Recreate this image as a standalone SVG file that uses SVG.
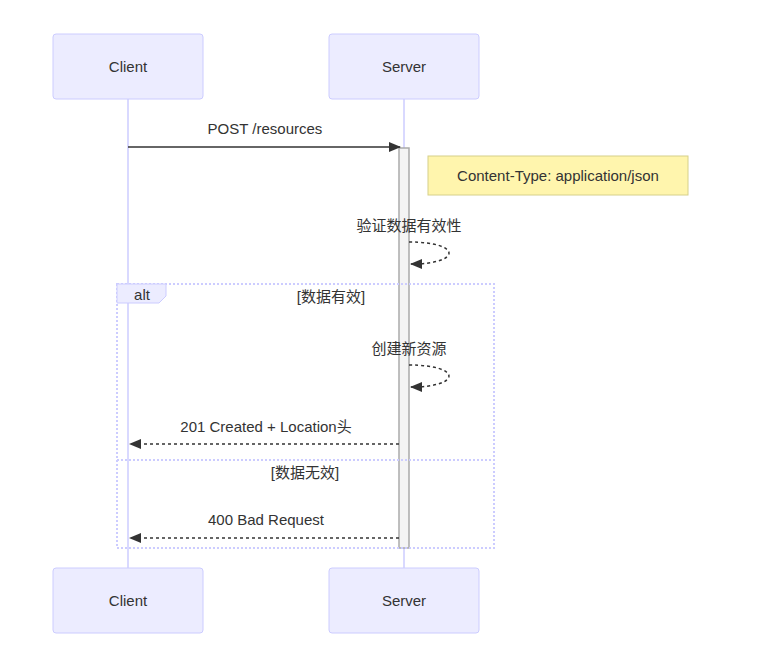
<svg xmlns="http://www.w3.org/2000/svg" width="767" height="659" viewBox="0 0 767 659">
<defs>
<style>
.actor{fill:#ECECFF;stroke:#CCCCFF;stroke-width:1}
.life{stroke:#CCCCFF;stroke-width:1.5}
.t{font-family:"Trebuchet MS","Liberation Sans","Noto Sans CJK SC",sans-serif;font-size:15px;fill:#333;text-anchor:middle}
.msg{stroke:#333;stroke-width:1.5;fill:none}
.dash{stroke-dasharray:3,3}
.loop{stroke:#CCCCFF;stroke-width:2;fill:none;stroke-dasharray:2,2}
</style>
<marker id="ah" viewBox="0 0 12 10" refX="11" refY="5" markerWidth="12" markerHeight="10" markerUnits="userSpaceOnUse" orient="auto"><path d="M0,0 L12,5 L0,10 z" fill="#333"/></marker>
</defs>
<rect width="767" height="659" fill="#fff"/>
<g id="lifelines">
<line class="life" x1="128" y1="99" x2="128" y2="568"/>
<line class="life" x1="404" y1="99" x2="404" y2="568"/>
</g>
<g id="client-top"><rect class="actor" x="53" y="34" width="150" height="65" rx="3"/><text class="t" x="128" y="72">Client</text></g>
<g id="server-top"><rect class="actor" x="329" y="34" width="150" height="65" rx="3"/><text class="t" x="404" y="72">Server</text></g>
<g id="client-bottom"><rect class="actor" x="53" y="568" width="150" height="65" rx="3"/><text class="t" x="128" y="606">Client</text></g>
<g id="server-bottom"><rect class="actor" x="329" y="568" width="150" height="65" rx="3"/><text class="t" x="404" y="606">Server</text></g>
<g id="activation"><rect x="399" y="148" width="10" height="400" fill="#F4F4F4" stroke="#aaa" stroke-width="1.5"/></g>
<g id="note"><rect x="428" y="156" width="260" height="39" fill="#FFF5AD" stroke="#D6D08A"/><text class="t" x="558" y="181">Content-Type: application/json</text></g>
<g id="alt">
<rect class="loop" x="117" y="284" width="377" height="264"/>
<line class="loop" x1="117" y1="460" x2="494" y2="460"/>
<path d="M117,284 H166 V296 L159,303 H117 Z" fill="#ECECFF" stroke="#CCCCFF"/>
<text class="t" x="142" y="300">alt</text>
<text class="t" x="331" y="302" style="font-weight:normal">[数据有效]</text>
<text class="t" x="305" y="478">[数据无效]</text>
</g>
<g id="connectors">
<line class="msg" x1="128" y1="147" x2="400" y2="147" marker-end="url(#ah)"/>
<text class="t" x="265" y="134">POST /resources</text>
<path class="msg dash" d="M409,242 C462,242 462,264 411,264" marker-end="url(#ah)"/>
<text class="t" x="409" y="231">验证数据有效性</text>
<path class="msg dash" d="M409,365 C462,365 462,387 411,387" marker-end="url(#ah)"/>
<text class="t" x="409" y="354">创建新资源</text>
<line class="msg dash" x1="399" y1="444" x2="130" y2="444" marker-end="url(#ah)"/>
<text class="t" x="266" y="432">201 Created + Location头</text>
<line class="msg dash" x1="399" y1="538" x2="130" y2="538" marker-end="url(#ah)"/>
<text class="t" x="266" y="525">400 Bad Request</text>
</g>
</svg>
